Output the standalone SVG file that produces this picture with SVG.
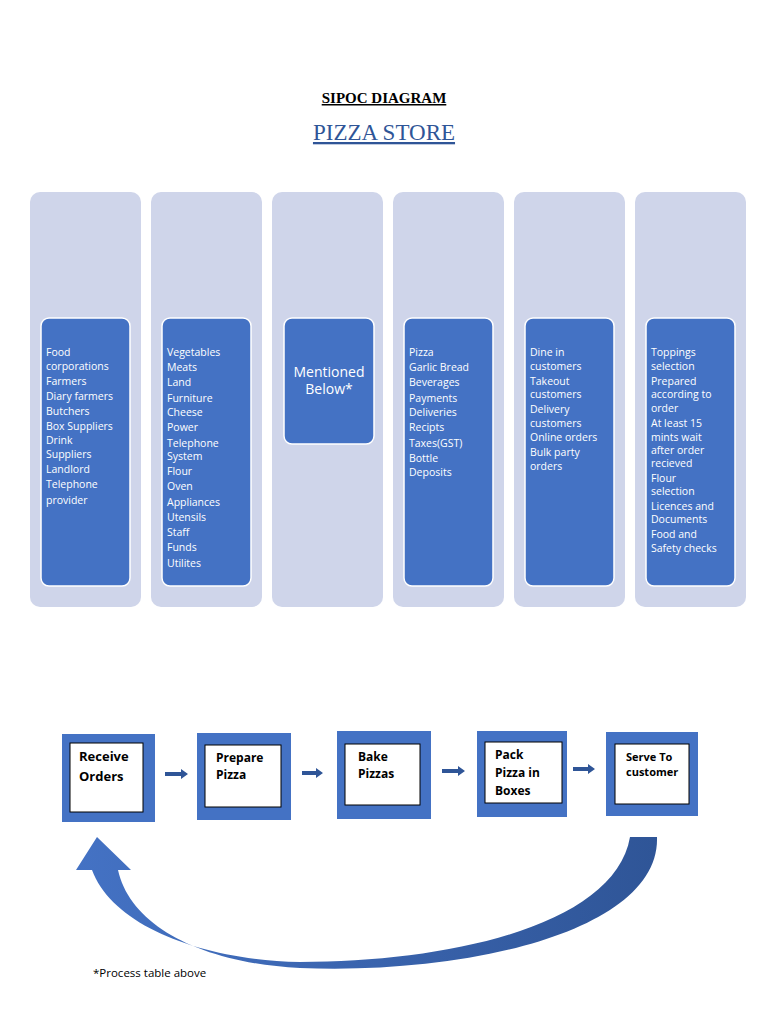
<svg xmlns="http://www.w3.org/2000/svg" width="768" height="1024" viewBox="0 0 768 1024">
<defs>
<style>
.outer{fill:#CFD5EA}
.inner{fill:#4472C4;stroke:#fff;stroke-width:1.5}
.t{font-family:"Open Sans",sans-serif;font-size:10.5px;fill:#fff}
.pb{fill:#4472C4}
.pi{fill:#fff;stroke:#000;stroke-width:1}
.pt{font-family:"Open Sans",sans-serif;font-size:12px;font-weight:bold;fill:#000}
</style>
<linearGradient id="g" x1="0" y1="0" x2="1" y2="0">
<stop offset="0" stop-color="#4472C4"/><stop offset="1" stop-color="#2F5597"/>
</linearGradient>
</defs>
<rect width="768" height="1024" fill="#fff"/>
<text x="384" y="103" text-anchor="middle" font-family="Liberation Serif,serif" font-size="15" font-weight="bold" text-decoration="underline">SIPOC DIAGRAM</text>
<text x="384" y="140" text-anchor="middle" font-family="Liberation Serif,serif" font-size="23" fill="#2F5597" text-decoration="underline">PIZZA STORE</text>

<g id="suppliers"><rect class="outer" x="30" y="192" width="111" height="415" rx="10"/><rect class="inner" x="41" y="318" width="89" height="268" rx="8"/>
<text class="t"><tspan x="46" y="356">Food</tspan><tspan x="46" y="370">corporations</tspan><tspan x="46" y="385">Farmers</tspan><tspan x="46" y="400">Diary farmers</tspan><tspan x="46" y="415">Butchers</tspan><tspan x="46" y="430">Box Suppliers</tspan><tspan x="46" y="444">Drink</tspan><tspan x="46" y="458">Suppliers</tspan><tspan x="46" y="473">Landlord</tspan><tspan x="46" y="488">Telephone</tspan><tspan x="46" y="504">provider</tspan></text></g>

<g id="inputs"><rect class="outer" x="151" y="192" width="111" height="415" rx="10"/><rect class="inner" x="162" y="318" width="89" height="268" rx="8"/>
<text class="t"><tspan x="167" y="356">Vegetables</tspan><tspan x="167" y="371">Meats</tspan><tspan x="167" y="386">Land</tspan><tspan x="167" y="402">Furniture</tspan><tspan x="167" y="416">Cheese</tspan><tspan x="167" y="431">Power</tspan><tspan x="167" y="447">Telephone</tspan><tspan x="167" y="460">System</tspan><tspan x="167" y="475">Flour</tspan><tspan x="167" y="490">Oven</tspan><tspan x="167" y="506">Appliances</tspan><tspan x="167" y="521">Utensils</tspan><tspan x="167" y="536">Staff</tspan><tspan x="167" y="551">Funds</tspan><tspan x="167" y="567">Utilites</tspan></text></g>

<g id="process"><rect class="outer" x="272" y="192" width="111" height="415" rx="10"/><rect class="inner" x="284" y="318" width="90" height="126" rx="8"/>
<text class="t" style="font-size:14px" text-anchor="middle"><tspan x="329" y="377">Mentioned</tspan><tspan x="329" y="394">Below*</tspan></text></g>

<g id="outputs"><rect class="outer" x="393" y="192" width="111" height="415" rx="10"/><rect class="inner" x="404" y="318" width="89" height="268" rx="8"/>
<text class="t"><tspan x="409" y="356">Pizza</tspan><tspan x="409" y="371">Garlic Bread</tspan><tspan x="409" y="386">Beverages</tspan><tspan x="409" y="402">Payments</tspan><tspan x="409" y="416">Deliveries</tspan><tspan x="409" y="431">Recipts</tspan><tspan x="409" y="447">Taxes(GST)</tspan><tspan x="409" y="462">Bottle</tspan><tspan x="409" y="476">Deposits</tspan></text></g>

<g id="customers"><rect class="outer" x="514" y="192" width="111" height="415" rx="10"/><rect class="inner" x="525" y="318" width="89" height="268" rx="8"/>
<text class="t"><tspan x="530" y="356">Dine in</tspan><tspan x="530" y="370">customers</tspan><tspan x="530" y="385">Takeout</tspan><tspan x="530" y="398">customers</tspan><tspan x="530" y="413">Delivery</tspan><tspan x="530" y="427">customers</tspan><tspan x="530" y="441">Online orders</tspan><tspan x="530" y="456">Bulk party</tspan><tspan x="530" y="470">orders</tspan></text></g>

<g id="requirements"><rect class="outer" x="635" y="192" width="111" height="415" rx="10"/><rect class="inner" x="646" y="318" width="89" height="268" rx="8"/>
<text class="t"><tspan x="651" y="356">Toppings</tspan><tspan x="651" y="370">selection</tspan><tspan x="651" y="385">Prepared</tspan><tspan x="651" y="398">according to</tspan><tspan x="651" y="412">order</tspan><tspan x="651" y="427">At least 15</tspan><tspan x="651" y="441">mints wait</tspan><tspan x="651" y="454">after order</tspan><tspan x="651" y="467">recieved</tspan><tspan x="651" y="482">Flour</tspan><tspan x="651" y="495">selection</tspan><tspan x="651" y="510">Licences and</tspan><tspan x="651" y="523">Documents</tspan><tspan x="651" y="538">Food and</tspan><tspan x="651" y="552">Safety checks</tspan></text></g>

<g id="receive"><rect class="pb" x="62" y="734" width="93" height="88"/><rect class="pi" x="70" y="743" width="73" height="69"/><text class="pt" style="font-size:13px"><tspan x="79" y="761">Receive</tspan><tspan x="79" y="781">Orders</tspan></text></g>
<g id="prepare"><rect class="pb" x="197" y="733" width="94" height="87"/><rect class="pi" x="205" y="745" width="76" height="62"/><text class="pt"><tspan x="216" y="762">Prepare</tspan><tspan x="216" y="779">Pizza</tspan></text></g>
<g id="bake"><rect class="pb" x="337" y="731" width="94" height="88"/><rect class="pi" x="345" y="744" width="75" height="61"/><text class="pt"><tspan x="358" y="761">Bake</tspan><tspan x="358" y="778">Pizzas</tspan></text></g>
<g id="pack"><rect class="pb" x="477" y="731" width="90" height="86"/><rect class="pi" x="485" y="742" width="77" height="61"/><text class="pt"><tspan x="495" y="759">Pack</tspan><tspan x="495" y="777">Pizza in</tspan><tspan x="495" y="795">Boxes</tspan></text></g>
<g id="serve"><rect class="pb" x="606" y="732" width="92" height="84"/><rect class="pi" x="615" y="744" width="74" height="60"/><text class="pt" style="font-size:11px"><tspan x="626" y="761">Serve To</tspan><tspan x="626" y="776">customer</tspan></text></g>

<g id="connectors" fill="#2F5597">
<path d="M165,772 H181 V769 L188,774 L181,779 V776 H165 Z"/>
<path d="M302,771 H316 V768 L323,773 L316,778 V775 H302 Z"/>
<path d="M442,769 H458 V766 L465,771 L458,776 V773 H442 Z"/>
<path d="M573,767 H588 V764 L595,769 L588,774 V771 H573 Z"/>
<path fill="url(#g)" d="M630,837 L657,837 C660,930 470,975 300,968 C200,963 130,925 118,870 L131,870 L97,837 L76,870 L92,870 C112,925 200,960 300,962 C450,962 615,925 630,837 Z"/>
</g>
<text x="93" y="977" font-family="Open Sans,sans-serif" font-size="11.5">*Process table above</text>
</svg>
